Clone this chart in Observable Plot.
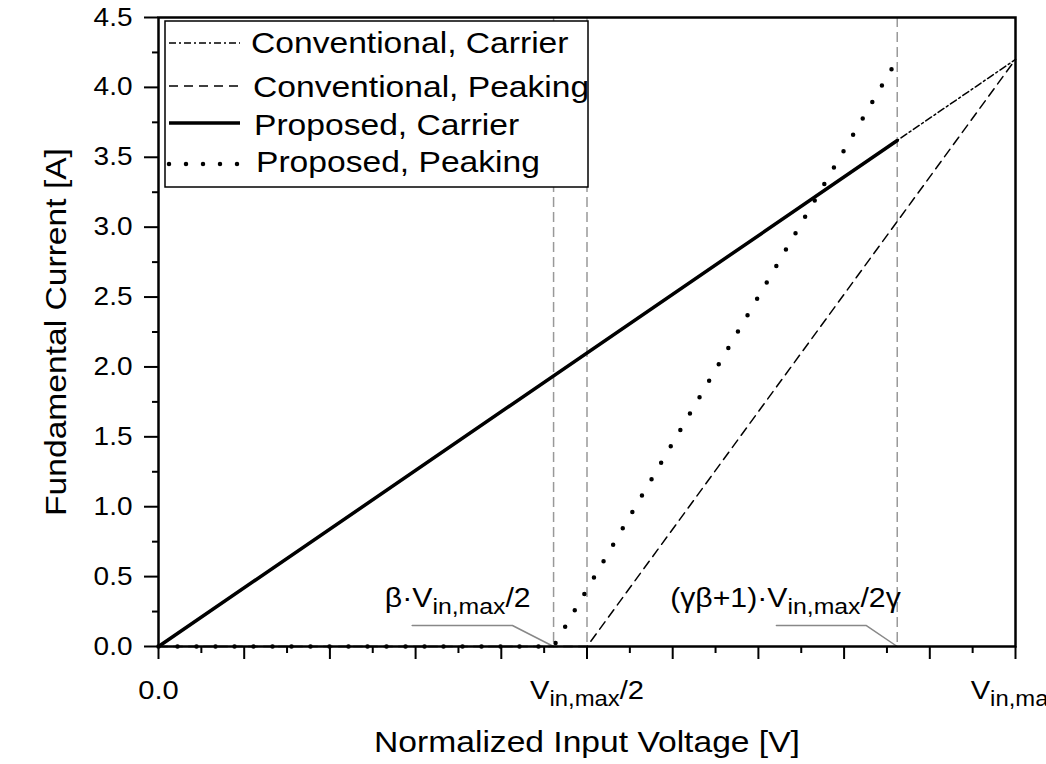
<!DOCTYPE html>
<html>
<head>
<meta charset="utf-8">
<script src="https://cdn.jsdelivr.net/npm/d3@7"></script>
<script src="https://cdn.jsdelivr.net/npm/@observablehq/plot@0.6"></script>
<style>
  html, body { margin: 0; padding: 0; background: #fff; }
  #chart { width: 1046px; height: 764px; overflow: hidden; }
</style>
</head>
<body>
<div id="chart"></div>
<script>
// ---- data (normalized input voltage vs fundamental current) ----
const convCarrierX = [0, 1];
const convCarrierY = [0, 4.2];
const convPeakX = [0, 0.5, 1];
const convPeakY = [0, 0, 4.2];
const propCarrierX = [0, 0.862];
const propCarrierY = [0, 3.62];
const propPeakX = [0, 0.461, 0.862];
const propPeakY = [0, 0, 4.2];
const markerX = [0.461, 0.5, 0.862];

// ---- ticks and labels ----
const yTicks = [0, 0.5, 1, 1.5, 2, 2.5, 3, 3.5, 4, 4.5];
const yMinorTicks = [0.25, 0.75, 1.25, 1.75, 2.25, 2.75, 3.25, 3.75, 4.25];
const xMajorTicks = [0, 0.1, 0.2, 0.3, 0.4, 0.5, 0.6, 0.7, 0.8, 0.9, 1];
const xMinorTicks = [0.05, 0.15, 0.25, 0.35, 0.45, 0.55, 0.65, 0.75, 0.85, 0.95];
const xLabelTicks = [0, 0.5, 1];
const xTickLabels = ["0.0", "V_{in,max}/2", "V_{in,max}"];
const xTitle = "Normalized Input Voltage [V]";
const yTitle = "Fundamental Current [A]";
const legendLabels = ["Conventional, Carrier", "Conventional, Peaking", "Proposed, Carrier", "Proposed, Peaking"];

// ---- annotations ----
const annotLabels = ["β·V_{in,max}/2", "(γβ+1)·V_{in,max}/2γ"];
const annotX = [0.264, 0.597];
const annotY = [0.286, 0.286];
const leader1X = [0.296, 0.413, markerX[0]];
const leader2X = [0.721, 0.826, markerX[2]];
const leaderY = [0.15, 0.15, 0];

const pts = (xs, ys) => xs.map((x, i) => ({x, y: ys[i]}));
const FONT = "'Liberation Sans', Arial, Helvetica, sans-serif";

const svg = Plot.plot({
  width: 1046,
  height: 764,
  marginLeft: 158,
  marginRight: 31,
  marginTop: 17,
  marginBottom: 118,
  style: {fontFamily: FONT, fontSize: "26px", color: "black", background: "white"},
  x: {domain: [0, 1], label: null},
  y: {domain: [0, 4.5], label: null},
  marks: [
    Plot.ruleX(markerX, {stroke: "#999", strokeWidth: 1.5, strokeDasharray: "10,5"}),
    Plot.line(pts(leader1X, leaderY), {x: "x", y: "y", stroke: "#888", strokeWidth: 1.5}),
    Plot.line(pts(leader2X, leaderY), {x: "x", y: "y", stroke: "#888", strokeWidth: 1.5}),
    Plot.line(pts(convCarrierX, convCarrierY), {x: "x", y: "y", stroke: "black", strokeWidth: 1.5, strokeDasharray: "7,3,2,3"}),
    Plot.line(pts(convPeakX, convPeakY), {x: "x", y: "y", stroke: "black", strokeWidth: 1.5, strokeDasharray: "9,6"}),
    Plot.line(pts(propCarrierX, propCarrierY), {x: "x", y: "y", stroke: "black", strokeWidth: 3.5}),
    Plot.line(pts(propPeakX, propPeakY), {x: "x", y: "y", stroke: "black", strokeWidth: 4.5, strokeDasharray: "0,19", strokeLinecap: "round"}),
    Plot.text(annotLabels, {x: (d, i) => annotX[i], y: (d, i) => annotY[i], text: d => d, textAnchor: "start", lineAnchor: "bottom", fontSize: 27}),
    // axes
    Plot.axisY(yTicks, {tickSize: 14, tickPadding: 12, strokeWidth: 2, tickFormat: d => d.toFixed(1), label: null, fontSize: 25}),
    Plot.axisY(yMinorTicks, {tickSize: 6, strokeWidth: 2, tickFormat: () => "", label: null}),
    Plot.axisX(xMajorTicks, {tickSize: 13, strokeWidth: 2, tickFormat: () => "", label: null}),
    Plot.axisX(xMinorTicks, {tickSize: 7, strokeWidth: 2, tickFormat: () => "", label: null}),
    Plot.axisX(xLabelTicks, {tickSize: 0, tickPadding: 34, tickFormat: d => xTickLabels[xLabelTicks.indexOf(d)], label: null, fontSize: 26}),
    Plot.text([xTitle], {frameAnchor: "bottom", dy: 96, text: d => d, textAnchor: "middle", lineAnchor: "middle", fontSize: 30}),
    Plot.text([yTitle], {frameAnchor: "left", dx: -102, rotate: -90, text: d => d, textAnchor: "middle", lineAnchor: "middle", fontSize: 30}),
    Plot.frame({stroke: "black", strokeWidth: 2.5})
  ]
});

document.getElementById("chart").appendChild(svg);

// ---- legend (inside plot, upper left) ----
const legendStyles = [
  {w: 1.5, dash: "7,3,2,3", cap: "butt"},
  {w: 1.5, dash: "9,6", cap: "butt"},
  {w: 3.5, dash: null, cap: "butt"},
  {w: 4.5, dash: "0,17", cap: "round"}
];
const legendRows = [
  {lineY: 43, baseY: 53, textX: 251},
  {lineY: 86, baseY: 97, textX: 253},
  {lineY: 123, baseY: 135, textX: 254},
  {lineY: 164, baseY: 172, textX: 256}
];
const lg = d3.select(svg).append("g").attr("class", "legend");
lg.append("rect").attr("x", 165).attr("y", 21).attr("width", 423).attr("height", 166)
  .attr("fill", "white").attr("stroke", "black").attr("stroke-width", 1.5);
legendLabels.forEach((lab, i) => {
  const s = legendStyles[i], r = legendRows[i];
  const ln = lg.append("line").attr("x1", 169).attr("x2", 240).attr("y1", r.lineY).attr("y2", r.lineY)
    .attr("stroke", "black").attr("stroke-width", s.w).attr("stroke-linecap", s.cap);
  if (s.dash) ln.attr("stroke-dasharray", s.dash);
  lg.append("text").attr("x", r.textX).attr("y", r.baseY).attr("font-size", 30)
    .attr("text-anchor", "start").text(lab);
});

// ---- subscripts: "_{...}" -> tspans ----
d3.select(svg).selectAll("text").each(function () {
  const el = this;
  const s = el.textContent;
  if (!s.includes("_{")) return;
  el.textContent = "";
  const re = /_\{([^}]*)\}/g;
  let last = 0, m, afterSub = false;
  const addPlain = (t) => {
    if (!t) return;
    const ts = document.createElementNS("http://www.w3.org/2000/svg", "tspan");
    if (afterSub) ts.setAttribute("dy", "-0.26em");
    ts.textContent = t;
    el.appendChild(ts);
    afterSub = false;
  };
  while ((m = re.exec(s)) !== null) {
    addPlain(s.slice(last, m.index));
    const ts = document.createElementNS("http://www.w3.org/2000/svg", "tspan");
    ts.setAttribute("font-size", "0.82em");
    ts.setAttribute("dy", "0.32em");
    ts.textContent = m[1];
    el.appendChild(ts);
    afterSub = true;
    last = re.lastIndex;
  }
  addPlain(s.slice(last));
});

// ---- slightly widen glyphs to match the reference's stretched lettering ----
d3.select(svg).selectAll("text").each(function () {
  const len = this.getComputedTextLength();
  if (len > 0) {
    this.setAttribute("textLength", (len * 1.12).toFixed(1));
    this.setAttribute("lengthAdjust", "spacingAndGlyphs");
  }
});
</script>
</body>
</html>
